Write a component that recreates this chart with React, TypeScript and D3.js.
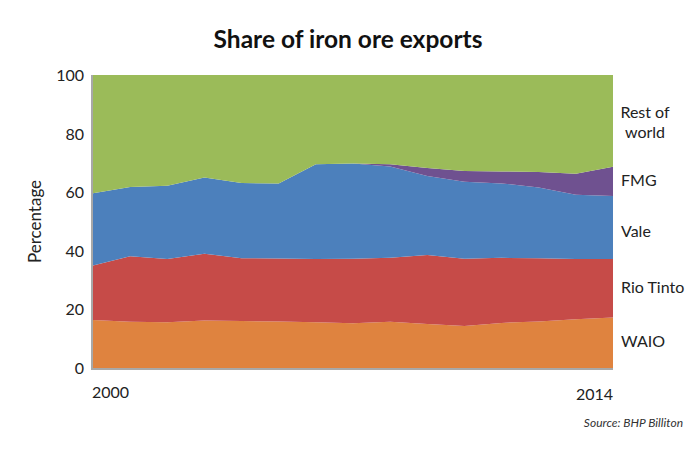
import React from 'react';
import * as d3 from 'd3';

// share of iron ore exports, percent, 2000-2014
const years = [2000, 2001, 2002, 2003, 2004, 2005, 2006, 2007, 2008, 2009, 2010, 2011, 2012, 2013, 2014];
const waio = [16.4, 15.8, 15.6, 16.2, 16.0, 15.9, 15.6, 15.3, 15.8, 15.0, 14.3, 15.4, 15.9, 16.6, 17.2];
const rioTinto = [18.6, 22.3, 21.6, 22.8, 21.5, 21.5, 21.6, 22.0, 21.8, 23.6, 23.0, 22.2, 21.6, 20.6, 20.0];
const vale = [24.6, 23.7, 25.0, 26.0, 25.6, 25.6, 32.3, 32.5, 31.2, 26.9, 26.3, 25.4, 24.1, 21.9, 21.5];
const fmg = [0, 0, 0, 0, 0, 0, 0, 0, 0.7, 2.8, 3.6, 4.1, 5.3, 7.2, 10.0];
const restOfWorld = [40.4, 38.2, 37.8, 35.0, 36.9, 37.0, 30.5, 30.2, 30.5, 31.7, 32.8, 32.9, 33.1, 33.7, 31.3];

const seriesKeys = ['WAIO', 'Rio Tinto', 'Vale', 'FMG', 'Rest of world'];
const seriesValues = [waio, rioTinto, vale, fmg, restOfWorld];
const seriesColors = ['#DF833F', '#C64B48', '#4C80BC', '#6F5190', '#9BBB59'];

const yTicks = [0, 20, 40, 60, 80, 100];
// where each right-hand label sits, in percent
const labelLevels = [8.5, 27, 46, 63.5, 84];

const font = 'Lato, "Open Sans", sans-serif';

const App: React.FC = () => {
  const margin = { top: 75, left: 93, right: 613, bottom: 368 };

  const x = d3.scaleLinear().domain([years[0], years[years.length - 1]]).range([margin.left, margin.right]);
  const y = d3.scaleLinear().domain([0, 100]).range([margin.bottom, margin.top]);

  const rows = years.map((yr, i) => {
    const row: Record<string, number> = { year: yr };
    seriesKeys.forEach((k, j) => { row[k] = seriesValues[j][i]; });
    return row;
  });

  const stacked = d3.stack<Record<string, number>>().keys(seriesKeys)(rows);

  const area = d3.area<d3.SeriesPoint<Record<string, number>>>()
    .x(d => x(d.data.year))
    .y0(d => y(d[0]))
    .y1(d => y(Math.min(d[1], 100)));

  return (
    <svg width={700} height={450} style={{ position: 'absolute', left: 0, top: 0, background: '#fff' }}>
      <text x={348} y={48} textAnchor="middle" fontFamily={font} fontWeight="bold" fontSize={24.5} fill="#111">
        Share of iron ore exports
      </text>

      {stacked.map((s, i) => (
        <path key={s.key} d={area(s) || ''} fill={seriesColors[i]} />
      ))}

      {/* axis lines */}
      <line x1={92} x2={92} y1={margin.top} y2={margin.bottom + 2} stroke="#A8A8A8" strokeWidth={2} />
      <line x1={91} x2={margin.right} y1={margin.bottom + 1} y2={margin.bottom + 1} stroke="#A8A8A8" strokeWidth={2} />

      {yTicks.map(t => (
        <text key={t} x={84} y={y(t) + 2} textAnchor="end" dominantBaseline="middle"
          fontFamily={font} fontSize={16} fill="#222">{t}</text>
      ))}

      <text transform={`translate(41,${(margin.top + margin.bottom) / 2}) rotate(-90)`} textAnchor="middle"
        fontFamily={font} fontSize={17} fill="#222">Percentage</text>

      <text x={x(years[0]) - 1} y={398} textAnchor="start" fontFamily={font} fontSize={16} fill="#222">{years[0]}</text>
      <text x={x(years[years.length - 1])} y={400} textAnchor="end" fontFamily={font} fontSize={16} fill="#222">
        {years[years.length - 1]}
      </text>

      {seriesKeys.map((k, i) => {
        const yy = y(labelLevels[i]);
        if (k === 'Rest of world') {
          return (
            <text key={k} x={645} textAnchor="middle" fontFamily={font} fontSize={16} fill="#222">
              <tspan x={645} y={yy - 4}>Rest of</tspan>
              <tspan x={645} y={yy + 16}>world</tspan>
            </text>
          );
        }
        return (
          <text key={k} x={621} y={yy} dominantBaseline="middle" fontFamily={font} fontSize={16} fill="#222">{k}</text>
        );
      })}

      <text x={683} y={427} textAnchor="end" fontFamily={font} fontStyle="italic" fontSize={12} fill="#333">
        Source: BHP Billiton
      </text>
    </svg>
  );
};

export default App;
